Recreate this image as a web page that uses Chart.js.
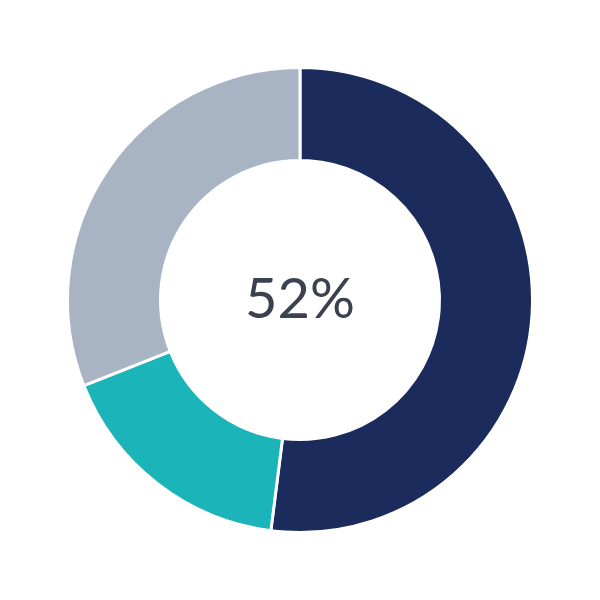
<!DOCTYPE html>
<html>
<head>
<meta charset="utf-8">
<script src="https://cdn.jsdelivr.net/npm/chart.js@4/dist/chart.umd.min.js"></script>
<style>
html,body{margin:0;padding:0;background:#fff;}
#wrap{width:600px;height:600px;}
</style>
</head>
<body>
<div id="wrap"><canvas id="c" width="600" height="600"></canvas></div>
<script>
const categories = ["Segment A", "Segment B", "Segment C"];
const values = [52, 17, 31];
const colors = ["#1b2b5b", "#1bb4b8", "#a8b4c3"];
const centerLabel = values[0] + "%";

const centerText = {
  id: "centerText",
  afterDraw(chart) {
    const meta = chart.getDatasetMeta(0);
    const arc = meta.data[0];
    if (!arc) return;
    const ctx = chart.ctx;
    ctx.save();
    ctx.font = "400 56px Lato";
    ctx.fillStyle = "#3b4150";
    ctx.textAlign = "center";
    ctx.textBaseline = "middle";
    ctx.fillText(centerLabel, arc.x, arc.y);
    ctx.restore();
  }
};

new Chart(document.getElementById("c"), {
  type: "doughnut",
  data: {
    labels: categories,
    datasets: [{
      data: values,
      backgroundColor: colors,
      borderColor: "#ffffff",
      borderWidth: 3,
      hoverOffset: 0
    }]
  },
  options: {
    responsive: false,
    animation: false,
    cutout: "60%",
    layout: { padding: 66 },
    plugins: {
      legend: { display: false },
      tooltip: { enabled: false }
    }
  },
  plugins: [centerText]
});
</script>
</body>
</html>
